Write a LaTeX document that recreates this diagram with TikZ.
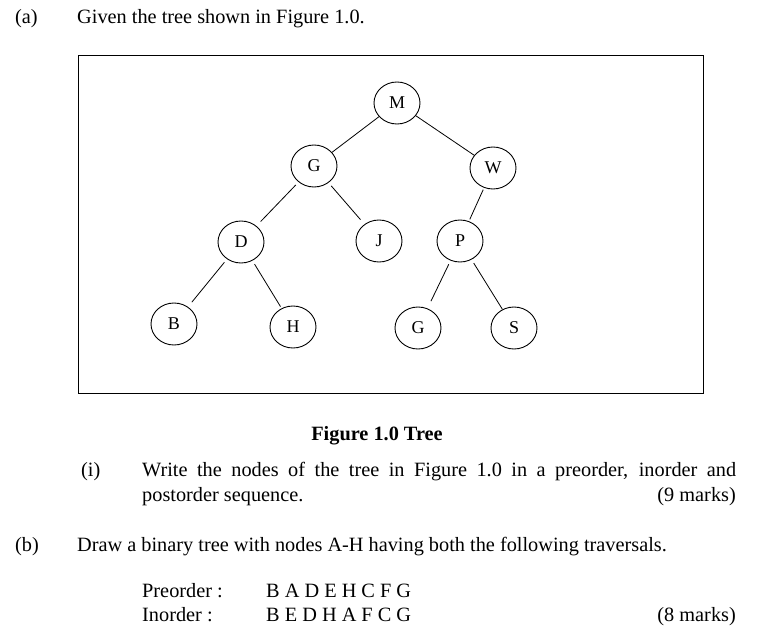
\documentclass[tikz,border=0pt]{standalone}
\usepackage{fontspec}
\setmainfont{Liberation Serif}
\usetikzlibrary{shapes.geometric}
\begin{document}
\begin{tikzpicture}[x=1pt,y=-1pt,
  tn/.style={draw,ellipse,minimum width=46pt,minimum height=42pt,inner sep=0pt,line width=0.9pt,font=\fontsize{18}{20}\selectfont},
  ed/.style={line width=0.8pt},
  txt/.style={anchor=base west,inner sep=0pt,font=\fontsize{20.3}{24}\selectfont}]
\useasboundingbox (0,0) rectangle (768,631);
\node[txt] (la) at (15,24) {(a)};
\node[txt] (ga) at (77,24) {Given the tree shown in Figure 1.0.};
\draw[line width=0.9pt] (78,55) rectangle (703,393);
\node[tn] (M) at (397,103) {M};
\node[tn] (G) at (314,166) {G};
\node[tn] (W) at (493,168) {W};
\node[tn] (D) at (241,242) {D};
\node[tn] (J) at (379,241) {J};
\node[tn] (P) at (460,241) {P};
\node[tn] (B) at (174,324) {B};
\node[tn] (H) at (293,327) {H};
\node[tn] (G2) at (418,328) {G};
\node[tn] (S) at (514,328) {S};
\draw[ed] (M) -- (G);
\draw[ed] (M) -- (W);
\draw[ed,shorten <=4pt,shorten >=6pt] (G) -- (D);
\draw[ed,shorten <=4pt,shorten >=6pt] (G) -- (J);
\draw[ed,shorten <=2pt,shorten >=2pt] (W) -- (P);
\draw[ed,shorten <=4pt,shorten >=6pt] (D) -- (B);
\draw[ed,shorten <=4pt,shorten >=2pt] (D) -- (H);
\draw[ed,shorten <=4pt,shorten >=8pt] (P) -- (G2);
\draw[ed,shorten <=4pt] (P) -- (S);
\node[txt,anchor=base,font=\fontsize{20.3}{24}\selectfont\bfseries] (cap) at (377,440) {Figure 1.0 Tree};
\node[txt] (li) at (81,476) {(i)};
\node[txt,anchor=base west] (qi1) at (142,476) {\makebox[594pt][s]{Write the nodes of the tree in Figure 1.0 in a preorder, inorder and}};
\node[txt] (qi2) at (142,501) {postorder sequence.};
\node[txt,anchor=base east] (mk1) at (736,501) {(9 marks)};
\node[txt] (lb) at (15,551) {(b)};
\node[txt] (qb) at (77,551) {Draw a binary tree with nodes A-H having both the following traversals.};
\node[txt] (pre) at (142,597) {Preorder :};
\node[txt] (prev) at (266,597) {B A D E H C F G};
\node[txt] (ino) at (142,621) {Inorder :};
\node[txt] (inov) at (266,621) {B E D H A F C G};
\node[txt,anchor=base east] (mk) at (736,621) {(8 marks)};
\end{tikzpicture}
\end{document}
